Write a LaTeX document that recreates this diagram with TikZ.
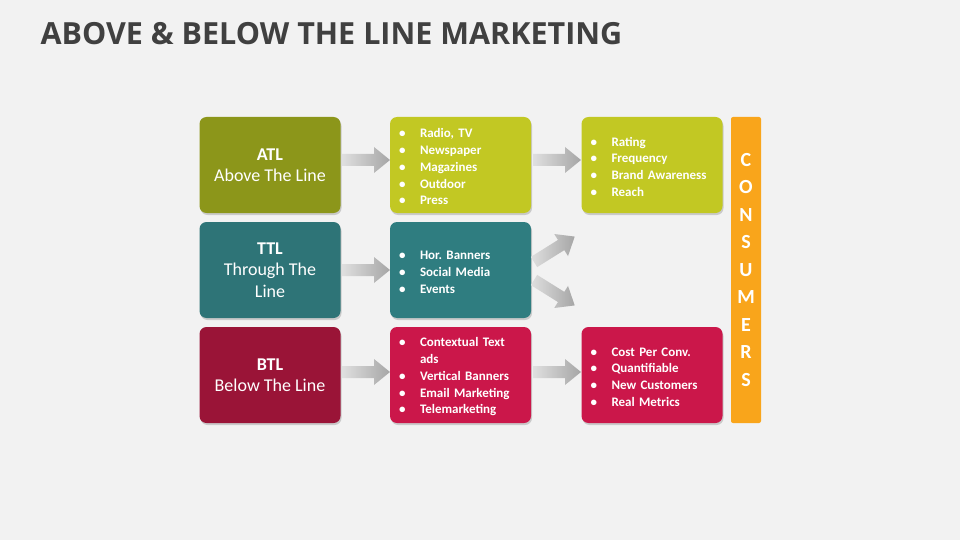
\documentclass[tikz,border=0pt]{standalone}
\usepackage{fontspec}
\setmainfont{Carlito}
\newfontfamily\titlefont{Open Sans}
\usetikzlibrary{shadows}
\frenchspacing
\definecolor{bg}{HTML}{F2F2F2}
\definecolor{oliveD}{HTML}{8C961A}
\definecolor{limeL}{HTML}{C2C823}
\definecolor{tealD}{HTML}{2E7477}
\definecolor{tealL}{HTML}{2F7D80}
\definecolor{redD}{HTML}{9A1437}
\definecolor{redL}{HTML}{CB174A}
\definecolor{orangeC}{HTML}{F9A51B}
\definecolor{titlec}{HTML}{404040}
\newcommand{\bi}[1]{\par\hspace*{-21pt}\makebox[21pt][l]{\textbullet}#1}
\tikzset{
 card/.style={draw=none,rounded corners=7pt,minimum width=141pt,minimum height=96pt,drop shadow={shadow xshift=1pt,shadow yshift=-2pt,opacity=0.35},text=white,inner sep=0pt},
 head/.style={card,font=\fontsize{18}{21.5}\selectfont,align=center},
 list/.style={card,font=\frenchspacing\fontsize{13}{16.8}\selectfont\bfseries,text width=131pt,align=left},
}
\newcommand{\garrow}[1]{%
 \begin{scope}[shift={#1}]
 \shade[left color=gray!25,right color=gray!70] (0,6) -- (32,6) -- (32,13) -- (48,0) -- (32,-13) -- (32,-6) -- (0,-6) -- cycle;
 \end{scope}}
\begin{document}
\begin{tikzpicture}[x=1pt,y=1pt]
\fill[bg] (0,0) rectangle (960,-540);
\useasboundingbox (0,0) rectangle (960,-540);
\node[anchor=west,text=titlec,font=\titlefont\bfseries\fontsize{30.5}{34}\selectfont] (title) at (37,-34) {ABOVE \& BELOW THE LINE MARKETING};

\node[head,fill=oliveD] (atl) at (270,-165) {\textbf{ATL}\\Above The Line};
\node[head,fill=tealD] (ttl) at (270,-270) {\textbf{TTL}\\Through The\\Line};
\node[head,fill=redD] (btl) at (270,-375) {\textbf{BTL}\\Below The Line};

\node[list,fill=limeL] (m1) at (460.5,-165) {\leftskip=25pt\vspace*{-4pt}\bi{Radio, TV}\bi{Newspaper}\bi{Magazines}\bi{Outdoor}\bi{Press}\par};
\node[list,fill=tealL] (m2) at (460.5,-270) {\leftskip=25pt\vspace*{-4pt}\bi{Hor. Banners}\bi{Social Media}\bi{Events}\par};
\node[list,fill=redL] (m3) at (460.5,-375) {\leftskip=25pt\vspace*{-4pt}\bi{Contextual Text\newline ads}\bi{Vertical Banners}\bi{Email Marketing}\bi{Telemarketing}\par};

\node[list,fill=limeL] (r1) at (652,-165) {\leftskip=25pt\vspace*{-4pt}\bi{Rating}\bi{Frequency}\bi{Brand Awareness}\bi{Reach}\par};
\node[list,fill=redL] (r3) at (652,-375) {\leftskip=25pt\vspace*{-4pt}\bi{Cost Per Conv.}\bi{Quantifiable}\bi{New Customers}\bi{Real Metrics}\par};

\node[fill=orangeC,rounded corners=2pt,minimum width=30pt,minimum height=306pt,text=white,font=\fontsize{20}{27.5}\selectfont\bfseries,align=center,inner sep=0pt] (cons) at (746,-270) {C\\O\\N\\S\\U\\M\\E\\R\\S};

\garrow{(342,-160)}
\garrow{(342,-270)}
\garrow{(342,-372)}
\garrow{(533,-160)}
\garrow{(533,-372)}
\begin{scope}[shift={(534,-262)},rotate=32]\shade[left color=gray!25,right color=gray!70] (0,6) -- (32,6) -- (32,13) -- (48,0) -- (32,-13) -- (32,-6) -- (0,-6) -- cycle;\end{scope}
\begin{scope}[shift={(534,-280)},rotate=-32]\shade[left color=gray!25,right color=gray!70] (0,6) -- (32,6) -- (32,13) -- (48,0) -- (32,-13) -- (32,-6) -- (0,-6) -- cycle;\end{scope}
\end{tikzpicture}
\end{document}
